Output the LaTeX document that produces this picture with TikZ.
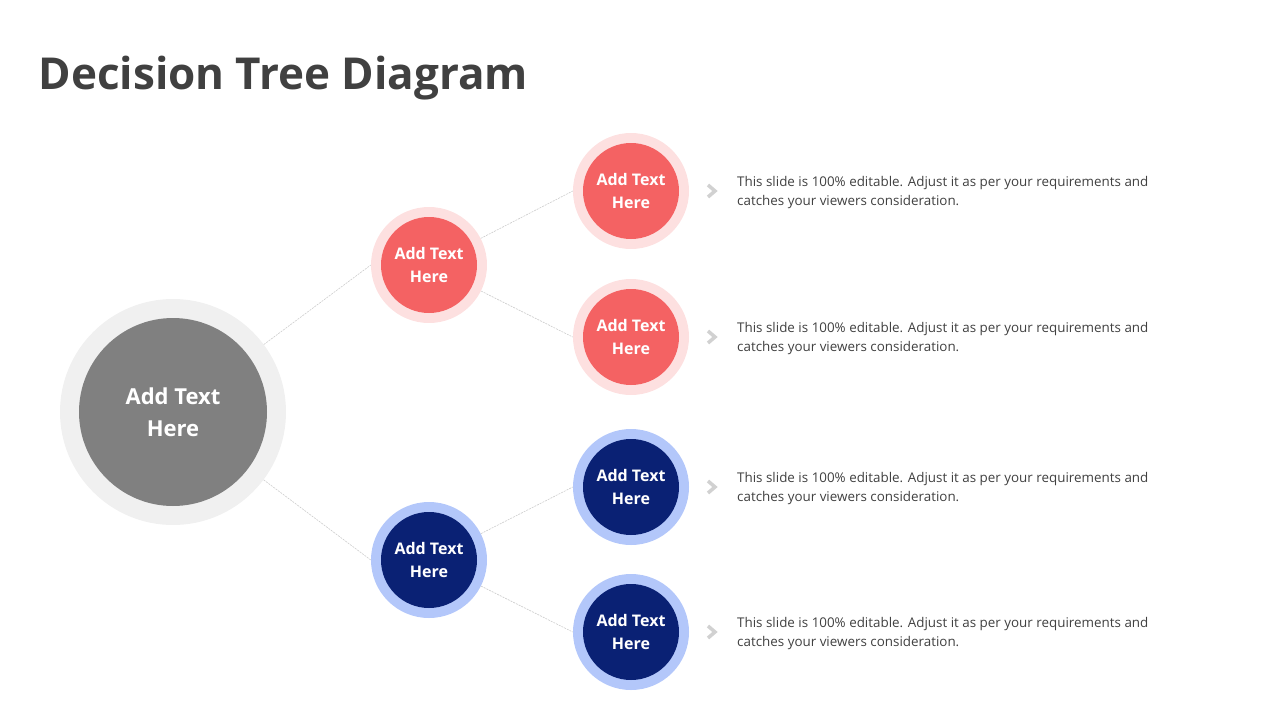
\documentclass[tikz,border=0pt]{standalone}
\usepackage{fontspec}
\setmainfont{Open Sans}
\begin{document}
\begin{tikzpicture}[x=1pt,y=-1pt,
  ring/.style={circle,inner sep=0pt,minimum size=#1},
  lnk/.style={draw=black!20,dash pattern=on 2pt off 1pt,line width=0.6pt},
  ctext/.style={text=white,font=\bfseries\fontsize{16}{23}\selectfont,align=center},
  body/.style={anchor=north west,text=black!75,font=\fontsize{13.4}{19}\selectfont,align=left,inner sep=0pt},
  chev/.style={draw=black!18,line width=3.5pt}]
\useasboundingbox (0,0) rectangle (1280,720);
\definecolor{red1}{HTML}{F46263}\definecolor{red2}{HTML}{FDE0E0}
\definecolor{blu1}{HTML}{0A2174}\definecolor{blu2}{HTML}{B3C7FA}
\node[anchor=west,text=black!75,font=\bfseries\fontsize{44}{50}\selectfont] (title) at (35,78) {Decision Tree Diagram};
\node[ring=226,fill=black!6] (r) at (173,412) {};
\node[ring=188,fill=black!50,ctext,font=\bfseries\fontsize{22}{32}\selectfont] (ri) at (173,412) {Add Text\\Here};
\foreach \n/\x/\y/\a/\b in {a/429/265/red2/red1, b/429/560/blu2/blu1, a1/631/191/red2/red1, a2/631/337/red2/red1, b1/631/487/blu2/blu1, b2/631/632/blu2/blu1}{
  \node[ring=116,fill=\a] (\n) at (\x,\y) {};
  \node[ring=96,fill=\b,ctext] (\n i) at (\x,\y) {Add Text\\Here};
}
\draw[lnk] (r) -- (a.west); \draw[lnk] (r) -- (b.west);
\draw[lnk] (a) -- (a1.west); \draw[lnk] (a) -- (a2.west);
\draw[lnk] (b) -- (b1.west); \draw[lnk] (b) -- (b2.west);
\foreach \y/\n in {191/t1,337/t2,487/t3,632/t4}{
  \coordinate (c\n) at (712,\y);
  \draw[chev] ([xshift=-4,yshift=-6]c\n) -- ([xshift=3]c\n) -- ([xshift=-4,yshift=6]c\n);
  \node[body] (\n) at (737,\y-15) {This slide is 100\% editable. Adjust it as per your requirements and\\catches your viewers consideration.};
}
\end{tikzpicture}
\end{document}
